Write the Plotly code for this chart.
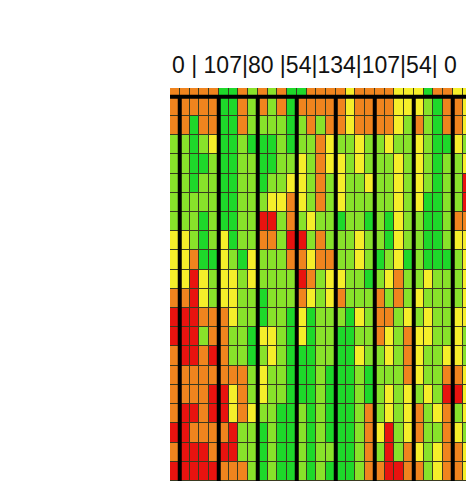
import plotly.graph_objects as go

header = "0 | 107|80 |54|134|107|54| 0"
strip = "OOOOOGGOLOLOGGOOOOYOOOOYYYGOOYYO"
rows = [
    "OOOOOGGOLOLOGOOOOOYOOOOYYYLGOOYY",
    "OOGOOGGOLLLLGLOLOOYOOOOYLOLGOOYO",
    "LLGLYGGLGGGLGLLOYLLYLLYLLYLGGYLG",
    "LLGGLGGLLGGLLYLOYYLYLLLYLYLGLLYO",
    "LLGLLGGLLGLLYYLOLYLLYLLYLYLGLLRO",
    "LLLLLGGLLLYYOYLOLYLLLLLYLYGGLLRY",
    "LLLGLGGLLRRLOLYLLGLLGLGYLLGGLOOY",
    "YYLGLYGLLOOLRRLOLLLYLLGYLLGGLYYG",
    "YYOGGYLGYLLLOOYOOLLYLGLYGLGGGLYO",
    "YYRYLYYLYLLLLROLYYLLGLYOLLYLLLYO",
    "OORYLYYLLGLLLOYLYOLLLOLOLYLLLLYO",
    "RRROOOYLLGLLGYGLLLGYLOOLYLYLLYYO",
    "RRRLOOLLGYYLGYGLLGGLLOYLOYYLLYLO",
    "ORROROLLGLYLGGGLLGGYLLYLOYLLYYLO",
    "OOOOOOOOLYLLGGGLGGGLGLLLOYLLOOYY",
    "OOOORRYOLYLLGGGLGGGLGLYLYLYLRRYY",
    "ORRORRYOYLLGGLGLGGGLOLYLYOLYOLYO",
    "RROOOORLLGLGGLGLGGGLOYRLYOLLOYLO",
    "ORRRORRLLGLGGLGLLGGLOLRLOYLYOOYO",
    "RRRRROOOLGLGGLGLGGGLOORROOLYOOYR",
]
color_codes = {"R": 0, "O": 1, "Y": 2, "L": 3, "G": 4}
palette = ["#e8130f", "#f0841e", "#f5ee2a", "#88e22a", "#1ed82a"]
group_bounds = [0.5 + 4 * k for k in range(8)]

z = [[color_codes[c] for c in strip]] + [[color_codes[c] for c in r] for r in rows]
y_edges = [-0.45] + [i + 0.0 for i in range(len(rows) + 1)]
ncol = len(strip)
cs = []
for i, c in enumerate(palette):
    cs.append([i / 5, c]); cs.append([(i + 1) / 5, c])

fig = go.Figure(go.Heatmap(z=z, x=list(range(ncol)), y=y_edges, colorscale=cs,
                           zmin=-0.5, zmax=4.5, showscale=False, xgap=1, ygap=1, hoverinfo="skip"))
shapes = [dict(type="line", x0=b, x1=b, y0=0, y1=len(rows), xref="x", yref="y",
               line=dict(color="black", width=4)) for b in group_bounds]
shapes.append(dict(type="line", x0=-0.5, x1=ncol, y0=0, y1=0, xref="x", yref="y",
                   line=dict(color="black", width=4)))
fig.update_layout(
    width=474, height=473, margin=dict(l=162, r=0, t=80, b=0),
    paper_bgcolor="white", plot_bgcolor="#3a3a20", shapes=shapes,
    xaxis=dict(range=[-0.5, ncol - 0.5], visible=False),
    yaxis=dict(range=[len(rows), -0.45], visible=False),
    annotations=[dict(text=header, xref="x domain", yref="paper", x=0.0, y=1, yshift=8,
                      xanchor="left", yanchor="bottom", showarrow=False,
                      font=dict(family="Liberation Sans", size=23, color="#111"))],
)
fig.write_html("out.html")
